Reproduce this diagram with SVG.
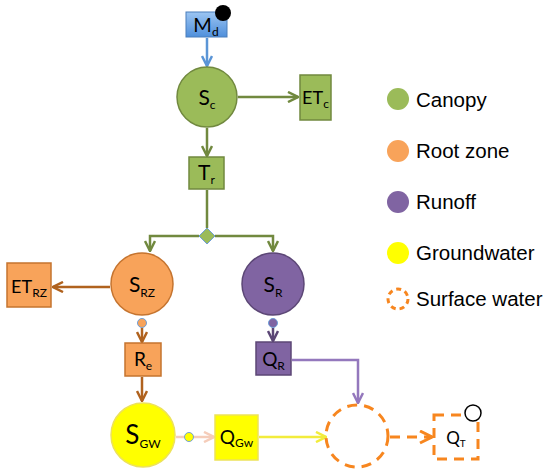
<svg xmlns="http://www.w3.org/2000/svg" width="550" height="476" viewBox="0 0 550 476">
<style>
text{font-family:"Liberation Sans",Arial,sans-serif;fill:#000}
.lbl{font-family:Lato,"Liberation Sans",sans-serif;font-size:21px;text-anchor:middle}
.sub{font-size:12px}
.leg{font-size:20.5px}
.green{fill:#9BBB59;stroke:#71893F;stroke-width:1.5}
.orange{fill:#F8A35A;stroke:#C5742F;stroke-width:1.5}
.purple{fill:#8064A2;stroke:#5C4776;stroke-width:1.5}
.yellow{fill:#FFFF00;stroke:#EDE25A;stroke-width:1.5}
.dash{fill:none;stroke:#F7861F;stroke-width:3;stroke-dasharray:10,7}
</style>
<defs>
<linearGradient id="blue" x1="0" y1="0" x2="0" y2="1"><stop offset="0" stop-color="#9CC5F2"/><stop offset="1" stop-color="#4F8FDB"/></linearGradient>
<marker id="aG" viewBox="0 0 10 10" refX="9" refY="5" markerWidth="5" markerHeight="5" orient="auto"><path d="M1,1L9,5L1,9" fill="none" stroke="#71893F" stroke-width="2"/></marker>
<marker id="aB" viewBox="0 0 10 10" refX="9" refY="5" markerWidth="5" markerHeight="5" orient="auto"><path d="M1,1L9,5L1,9" fill="none" stroke="#5B95D6" stroke-width="2"/></marker>
<marker id="aO" viewBox="0 0 10 10" refX="9" refY="5" markerWidth="5" markerHeight="5" orient="auto"><path d="M1,1L9,5L1,9" fill="none" stroke="#B0621E" stroke-width="2"/></marker>
<marker id="aP" viewBox="0 0 10 10" refX="9" refY="5" markerWidth="5" markerHeight="5" orient="auto"><path d="M1,1L9,5L1,9" fill="none" stroke="#5C4776" stroke-width="2"/></marker>
<marker id="aPl" viewBox="0 0 10 10" refX="9" refY="5" markerWidth="5" markerHeight="5" orient="auto"><path d="M1,1L9,5L1,9" fill="none" stroke="#9478BD" stroke-width="2"/></marker>
<marker id="aPk" viewBox="0 0 10 10" refX="9" refY="5" markerWidth="5" markerHeight="5" orient="auto"><path d="M1,1L9,5L1,9" fill="none" stroke="#F5CDBA" stroke-width="2"/></marker>
<marker id="aY" viewBox="0 0 10 10" refX="9" refY="5" markerWidth="5" markerHeight="5" orient="auto"><path d="M1,1L9,5L1,9" fill="none" stroke="#F2EC3C" stroke-width="2"/></marker>
<marker id="aD" viewBox="0 0 10 10" refX="9" refY="5" markerWidth="5" markerHeight="5" orient="auto"><path d="M1,1L9,5L1,9" fill="none" stroke="#F7861F" stroke-width="2"/></marker>
</defs>

<g id="connectors" fill="none" stroke-width="2.5">
<line x1="207" y1="38" x2="207" y2="66" stroke="#5B95D6" marker-end="url(#aB)"/>
<line x1="238" y1="97" x2="298" y2="97" stroke="#71893F" marker-end="url(#aG)"/>
<line x1="207" y1="128" x2="207" y2="156" stroke="#71893F" marker-end="url(#aG)"/>
<line x1="207" y1="190" x2="207" y2="228" stroke="#71893F"/>
<polyline points="199,236 150,236 150,251" stroke="#71893F" marker-end="url(#aG)"/>
<polyline points="215,236 273,236 273,251" stroke="#71893F" marker-end="url(#aG)"/>
<line x1="110" y1="287" x2="53" y2="287" stroke="#B0621E" marker-end="url(#aO)"/>
<line x1="142" y1="328" x2="142" y2="342" stroke="#B0621E" marker-end="url(#aO)"/>
<line x1="142" y1="377" x2="142" y2="401" stroke="#B0621E" marker-end="url(#aO)"/>
<line x1="273" y1="328" x2="273" y2="341" stroke="#5C4776" marker-end="url(#aP)"/>
<polyline points="292,360 358,360 358,403" stroke="#9478BD" marker-end="url(#aPl)"/>
<line x1="176" y1="437" x2="184" y2="437" stroke="#F5CDBA"/>
<line x1="194" y1="437" x2="214" y2="437" stroke="#F5CDBA" marker-end="url(#aPk)"/>
<line x1="259" y1="437" x2="326" y2="437" stroke="#F2EC3C" marker-end="url(#aY)"/>
<line x1="390" y1="437" x2="432" y2="437" stroke="#F7861F" stroke-width="3" stroke-dasharray="10,7" marker-end="url(#aD)"/>
</g>

<g id="Md">
<rect x="186" y="12" width="41" height="25" fill="url(#blue)" stroke="#4A7EBB" stroke-width="1"/>
<text x="206" y="32" class="lbl" style="font-size:20px">M<tspan class="sub" dy="4">d</tspan></text>
<circle cx="223" cy="13" r="8" fill="#000"/>
</g>
<g id="Sc">
<circle cx="207" cy="97" r="30" class="green"/>
<text x="207" y="105" class="lbl">S<tspan class="sub" dy="4">c</tspan></text>
</g>
<g id="ETc">
<rect x="300" y="75" width="31" height="45" class="green"/>
<text x="315.5" y="104" class="lbl" style="font-size:18px">ET<tspan class="sub" dy="4">c</tspan></text>
</g>
<g id="Tr">
<rect x="189" y="157" width="35" height="32" class="green"/>
<text x="206.5" y="180" class="lbl">T<tspan class="sub" dy="4">r</tspan></text>
</g>
<g id="split">
<path d="M207,228L215,236L207,244L199,236Z" fill="#9BBB59" stroke="#6F9FD8" stroke-width="1"/>
</g>
<g id="SRZ">
<circle cx="142" cy="284" r="31" class="orange"/>
<text x="142" y="292" class="lbl">S<tspan class="sub" dy="5">RZ</tspan></text>
</g>
<g id="ETRZ">
<rect x="7" y="263" width="44" height="44" class="orange"/>
<text x="29" y="293" class="lbl" style="font-size:18px">ET<tspan class="sub" dy="4">RZ</tspan></text>
</g>
<g id="SR">
<circle cx="273" cy="284" r="31" class="purple"/>
<text x="273" y="292" class="lbl">S<tspan class="sub" dy="5">R</tspan></text>
</g>
<g id="gateRe">
<circle cx="142" cy="323" r="4.5" fill="#F8A35A" stroke="#6F9FD8" stroke-width="1"/>
</g>
<g id="gateQR">
<circle cx="273" cy="323" r="4.5" fill="#8064A2" stroke="#6F9FD8" stroke-width="1"/>
</g>
<g id="Re">
<rect x="125" y="343" width="36" height="33" class="orange"/>
<text x="143" y="366" class="lbl" style="font-size:19px">R<tspan class="sub" dy="4">e</tspan></text>
</g>
<g id="QR">
<rect x="256" y="342" width="35" height="33" class="purple"/>
<text x="273.5" y="366" class="lbl" style="font-size:19px">Q<tspan class="sub" dy="4">R</tspan></text>
</g>
<g id="SGW">
<circle cx="143" cy="435" r="32" class="yellow"/>
<text x="143" y="444" class="lbl" style="font-size:26px">S<tspan class="sub" dy="4">GW</tspan></text>
</g>
<g id="gateQGW">
<circle cx="189" cy="437" r="4.5" fill="#FFFF00" stroke="#6F9FD8" stroke-width="1"/>
</g>
<g id="QGW">
<rect x="215" y="415" width="43" height="45" class="yellow"/>
<text x="236.5" y="444" class="lbl" style="font-size:19px">Q<tspan class="sub" dy="3">Gw</tspan></text>
</g>
<g id="Ssw">
<circle cx="357" cy="436" r="31" class="dash"/>
</g>
<g id="QT">
<rect x="434" y="415" width="44" height="44" class="dash"/>
<text x="456" y="444" class="lbl" style="font-size:17px">Q<tspan style="font-size:10px" dy="3">T</tspan></text>
<circle cx="473" cy="413" r="8" fill="#fff" stroke="#000" stroke-width="1.5"/>
</g>

<g id="legend">
<circle cx="398" cy="99" r="11" fill="#9BBB59"/>
<text x="416" y="107" class="leg">Canopy</text>
<circle cx="398" cy="151" r="11" fill="#F8A35A"/>
<text x="416" y="158" class="leg">Root zone</text>
<circle cx="398" cy="202" r="11" fill="#8064A2"/>
<text x="416" y="209" class="leg">Runoff</text>
<circle cx="398" cy="253" r="11" fill="#FFFF00"/>
<text x="416" y="260" class="leg">Groundwater</text>
<circle cx="398" cy="299" r="10" fill="none" stroke="#F7861F" stroke-width="3" stroke-dasharray="5,4"/>
<text x="416" y="306" class="leg">Surface water</text>
</g>
</svg>
